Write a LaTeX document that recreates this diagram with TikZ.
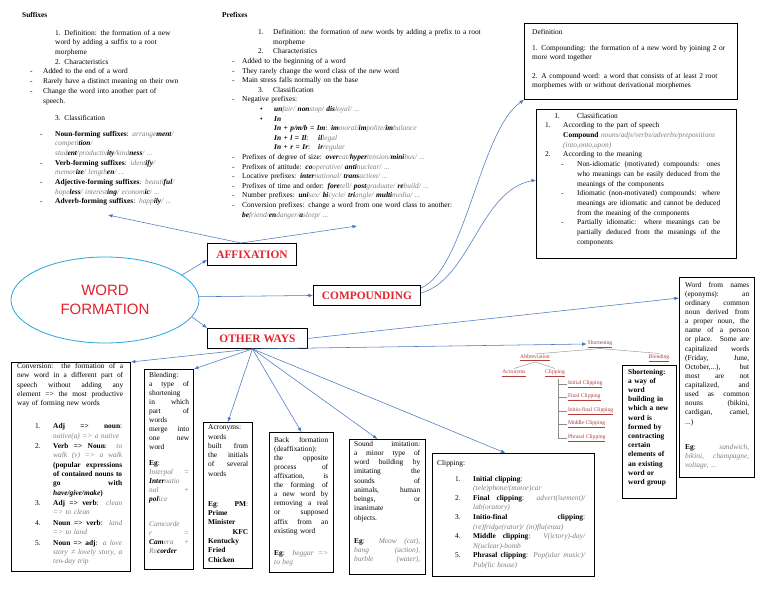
\documentclass[tikz,border=0pt]{standalone}
\usepackage{fontspec}
\setmainfont{Liberation Serif}
\newfontfamily\sansf{Liberation Sans}
\usetikzlibrary{arrows.meta,shapes.geometric,calc}
\definecolor{arrblue}{HTML}{4A78C2}
\definecolor{titlered}{HTML}{E3222B}
\definecolor{exgrey}{HTML}{808080}
\definecolor{treered}{HTML}{B23B3B}
\definecolor{ellblue}{HTML}{2AA5DC}
\definecolor{treegrey}{HTML}{8C8C8C}
\setlength\parindent{0pt}
\newlength\jw
\newcommand\jl[1]{\makebox[\jw][s]{\spaceskip=0pt\xspaceskip=0pt\relax #1}}
\newcommand\mk[2]{\makebox[#1pt][l]{#2}}
\newcommand\ex[1]{{\color{exgrey}\itshape #1}}
\newcommand\af[1]{{\color{black}\bfseries\itshape #1}}
\newcommand\ind[1]{\hspace*{#1pt}}
\begin{document}
\begin{tikzpicture}[x=1pt,y=-1pt,
  txt/.style={inner sep=0pt,anchor=north west,text width=#1},
  fs/.style={font=\fontsize{7.4}{#1}\selectfont},
  cbox/.style={draw=black,line width=0.85pt,inner sep=0pt,anchor=north west},
  title/.style={draw=black,line width=0.9pt,inner sep=0pt,anchor=north west,text=titlered,font=\fontsize{11.4}{13}\selectfont\bfseries},
  arr/.style={draw=arrblue,line width=0.55pt,-{Latex[length=4.5pt,width=3.6pt]}},
  tree/.style={inner sep=0.8pt,text=treered,font=\fontsize{5.6}{6.5}\selectfont},
  treeline/.style={draw=treegrey,line width=0.4pt}]
\fill[white] (0,0) rectangle (768,594);
\useasboundingbox (0,0) rectangle (768,594);

% ---------- Suffixes ----------
\node[txt=200pt,fs=9.7] (suf) at (22,11.7) {%
\textbf{Suffixes}\\[8.3pt]
\ind{33}1. Definition: the formation of a new\\
\ind{33}word by adding a suffix to a root\\
\ind{33}morpheme\\
\ind{33}2. Characteristics\\
\ind{8}\mk{13}{-}Added to the end of a word\\
\ind{8}\mk{13}{-}Rarely have a distinct meaning on their own\\
\ind{8}\mk{13}{-}Change the word into another part of\\
\ind{21}speech.\\[7.3pt]
\ind{33}3. Classification\\[6.3pt]
\ind{18}\mk{15}{-}\textbf{Noun-forming suffixes}: \ex{arrange\af{ment}/}\\
\ind{33}\ex{competi\af{tion}/}\\
\ind{33}\ex{stud\af{ent}/productiv\af{ity}/kind\af{ness}/ ...}\\
\ind{18}\mk{15}{-}\textbf{Verb-forming suffixes}: \ex{ident\af{ify}/}\\
\ind{33}\ex{memor\af{ize}/ length\af{en}/ ...}\\
\ind{18}\mk{15}{-}\textbf{Adjective-forming suffixes}: \ex{beauti\af{ful}/}\\
\ind{33}\ex{hope\af{less}/ interest\af{ing}/ econom\af{ic}/ ...}\\
\ind{18}\mk{15}{-}\textbf{Adverb-forming suffixes}: \ex{happ\af{ily}/ ...}};

% ---------- Prefixes ----------
\node[txt=290pt,fs=9.6] (pre) at (222,11.7) {%
\textbf{Prefixes}\\[7.9pt]
\ind{36}\mk{15}{1.}Definition: the formation of new words by adding a prefix to a root\\
\ind{51}morpheme\\
\ind{36}\mk{15}{2.}Characteristics\\
\ind{10}\mk{10}{-}Added to the beginning of a word\\
\ind{10}\mk{10}{-}They rarely change the word class of the new word\\
\ind{10}\mk{10}{-}Main stress falls normally on the base\\
\ind{36}\mk{15}{3.}Classification\\
\ind{10}\mk{10}{-}Negative prefixes:\\
\ind{38}\mk{14}{•}\ex{\af{un}fair/ \af{non}stop/ \af{dis}loyal/ ...}\\
\ind{38}\mk{14}{•}\textbf{\textit{In}}\\
\ind{52}\textbf{\textit{In + p/m/b = Im}}: \ex{\af{im}moral/\af{im}polite/\af{im}balance}\\
\ind{52}\mk{44}{\textbf{\textit{In + l = Il}}:}\ex{\af{il}legal}\\
\ind{52}\mk{44}{\textbf{\textit{In + r = Ir}}:}\ex{\af{ir}regular}\\
\ind{10}\mk{10}{-}Prefixes of degree of size: \ex{\af{over}eat/\af{hyper}tension/\af{mini}bus/ ...}\\
\ind{10}\mk{10}{-}Prefixes of attitude: \ex{\af{co}operative/ \af{anti}nuclear/ ...}\\
\ind{10}\mk{10}{-}Locative prefixes: \ex{\af{inter}national/ \af{trans}action/ ...}\\
\ind{10}\mk{10}{-}Prefixes of time and order: \ex{\af{fore}tell/ \af{post}graduate/ \af{re}build/ ...}\\
\ind{10}\mk{10}{-}Number prefixes: \ex{\af{uni}sex/ \af{bi}cycle/ \af{tri}angle/ \af{multi}media/ ...}\\
\ind{10}\mk{10}{-}Conversion prefixes: change a word from one word class to another:\\
\ind{20}\ex{\af{be}friend/\af{en}danger/\af{a}sleep/ ...}};

% ---------- Compounding boxes ----------
\node[cbox,minimum width=213pt,minimum height=76pt] (def) at (524,23) {};
\node[txt=205pt,fs=9.4] (deft) at (532,29.2) {Definition\\[6.1pt]
1. Compounding: the formation of a new word by joining 2 or\\
more word together\\[9.1pt]
2. A compound word: a word that consists of at least 2 root\\
morphemes with or without derivational morphemes};

\node[cbox,minimum width=200pt,minimum height=149pt] (cls) at (536,109) {};
\node[txt=195pt,fs=9.7] (clst) at (545,112.7) {\setlength\jw{143pt}%
\ind{10}\mk{22}{I.}Classification\\
\mk{18}{1.}According to the part of speech\\
\ind{18}\textbf{Compound} \ex{nouns/adjs/verbs/adverbs/prepositions}\\
\ind{18}\ex{(into,onto,upon)}\\
\mk{18}{2.}According to the meaning\\
\ind{16}\mk{16}{-}\jl{Non-idiomatic (motivated) compounds: ones}\\
\ind{32}\jl{who meanings can be easily deduced from the}\\
\ind{32}meanings of the components\\
\ind{16}\mk{16}{-}\jl{Idiomatic (non-motivated) compounds: where}\\
\ind{32}\jl{meanings are idiomatic and cannot be deduced}\\
\ind{32}from the meaning of the components\\
\ind{16}\mk{16}{-}\jl{Partially idiomatic: where meanings can be}\\
\ind{32}\jl{partially deduced from the meanings of the}\\
\ind{32}components};

% ---------- Central ellipse and titles ----------
\node[draw=ellblue,line width=0.8pt,ellipse,minimum width=188pt,minimum height=86pt,inner sep=0pt,
  text=titlered,font=\sansf\fontsize{15}{18.5}\selectfont,align=center] (wf) at (105,300) {WORD\\FORMATION};
\node[title,minimum width=89pt,minimum height=22pt] (affix) at (207,243) {AFFIXATION};
\node[title,minimum width=107pt,minimum height=20pt] (comp) at (313,285) {COMPOUNDING};
\node[title,minimum width=100pt,minimum height=20pt] (other) at (207,328) {OTHER WAYS};

% ---------- Other ways boxes ----------
\node[cbox,minimum width=119pt,minimum height=209pt] (conv) at (11,362) {};
\node[txt=110pt,fs=9.3] (convt) at (17,363.2) {\setlength\jw{106pt}%
\jl{Conversion: the formation of a}\\
\jl{new word in a different part of}\\
\jl{speech without adding any}\\
\jl{element => the most productive}\\
way of forming new words\\[13.7pt]
\setlength\jw{69pt}%
\ind{18}\mk{18}{1.}\jl{\textbf{Adj} \textbf{=>} \textbf{noun}:}\\
\ind{36}\ex{native(a) => a native}\\[1.2pt]
\ind{18}\mk{18}{2.}\jl{\textbf{Verb => Noun}: \ex{to}}\\
\ind{36}\jl{\ex{walk (v) => a walk}}\\
\ind{36}\jl{\textbf{(popular expressions}}\\
\ind{36}\jl{\textbf{of contained nouns to}}\\
\ind{36}\jl{\textbf{go with}}\\
\ind{36}\textbf{\textit{have/give/make})}\\[1.2pt]
\ind{18}\mk{18}{3.}\jl{\textbf{Adj => verb}: \ex{clean}}\\
\ind{36}\ex{=> to clean}\\[1.2pt]
\ind{18}\mk{18}{4.}\jl{\textbf{Noun => verb}: \ex{land}}\\
\ind{36}\ex{=> to land}\\[1.2pt]
\ind{18}\mk{18}{5.}\jl{\textbf{Noun => adj}: \ex{a love}}\\
\ind{36}\jl{\ex{story ≠ lovely story, a}}\\
\ind{36}\ex{ten-day trip}};

\node[cbox,minimum width=49pt,minimum height=200pt] (blend) at (144,369) {};
\node[txt=44pt,fs=9.0] (blendt) at (149,371.7) {\setlength\jw{40pt}%
Blending:\\
\jl{a type of}\\
shortening\\
\jl{in which}\\
\jl{part of}\\
words\\
\jl{merge into}\\
\jl{one new}\\
word\\[7pt]
\textbf{Eg}:\\
\jl{\ex{Interpol =}}\\
\ex{\af{Inter}natio}\\
\jl{\ex{nal +}}\\
\ex{\af{pol}ice}\\[16pt]
\ex{Camcorde}\\
\jl{\ex{r =}}\\
\jl{\ex{\af{Cam}era +}}\\
\ex{Re\af{corder}}};

\node[cbox,minimum width=49pt,minimum height=146pt] (acr) at (203,422) {};
\node[txt=42pt,fs=9.3] (acrt) at (208,424.7) {\setlength\jw{40pt}%
Acronyms:\\
words\\
\jl{built from}\\
\jl{the initials}\\
\jl{of several}\\
words\\[20.7pt]
\jl{\textbf{Eg}: \textbf{PM}:}\\
\textbf{Prime}\\
\textbf{Minister}\\
\makebox[\jw][r]{\textbf{KFC}}\\
\textbf{Kentucky}\\
\textbf{Fried}\\
\textbf{Chicken}};

\node[cbox,minimum width=64pt,minimum height=140pt] (back) at (269,432) {};
\node[txt=56pt,fs=9.1] (backt) at (274,436.7) {\setlength\jw{54pt}%
\jl{Back formation}\\
(deaffixation):\\
\jl{the opposite}\\
\jl{process of}\\
\jl{affixation, is}\\
\jl{the forming of}\\
\jl{a new word by}\\
\jl{removing a real}\\
\jl{or supposed}\\
\jl{affix from an}\\
existing word\\[12.9pt]
\jl{\textbf{Eg}: \ex{beggar =>}}\\
\ex{to beg}};

\node[cbox,minimum width=76pt,minimum height=135pt] (sound) at (349,439) {};
\node[txt=68pt,fs=9.25] (soundt) at (354,440.7) {\setlength\jw{66pt}%
\jl{Sound imitation:}\\
\jl{a minor type of}\\
\jl{word building by}\\
\jl{imitating the}\\
\jl{sounds of}\\
\jl{animals, human}\\
\jl{beings, or}\\
inanimate\\
objects.\\[13.75pt]
\jl{\textbf{Eg}: \ex{Meow (cat),}}\\
\jl{\ex{bang (action),}}\\
\jl{\ex{burble (water),}}};

\node[cbox,minimum width=162pt,minimum height=123pt] (clip) at (432,453) {};
\node[txt=155pt,fs=9.6] (clipt) at (437,459.7) {\setlength\jw{112pt}%
Clipping:\\[6.4pt]
\ind{18}\mk{18}{1.}\textbf{Initial clipping}:\\
\ind{36}\ex{(tele)phone/(motor)car}\\
\ind{18}\mk{18}{2.}\jl{\textbf{Final clipping}: \ex{advert(isement)/}}\\
\ind{36}\ex{lab(oratory)}\\
\ind{18}\mk{18}{3.}\jl{\textbf{Initio-final} \textbf{clipping}:}\\
\ind{36}\ex{(re)fridge(rator)/ (in)flu(enza)}\\
\ind{18}\mk{18}{4.}\jl{\textbf{Middle clipping}: \ex{V(ictory)-day/}}\\
\ind{36}\ex{N(uclear)-bomb}\\
\ind{18}\mk{18}{5.}\jl{\textbf{Phrasal clipping}: \ex{Pop(ular music)/}}\\
\ind{36}\ex{Pub(lic house)}};

\node[cbox,minimum width=54pt,minimum height=133pt] (shortb) at (622,365) {};
\node[txt=48pt,font=\fontsize{7.4}{9.2}\selectfont\bfseries] (shortt) at (628,368.7) {%
Shortening:\\ a way of\\ word\\ building in\\ which a new\\ word is\\ formed by\\ contracting\\ certain\\ elements of\\ an existing\\ word or\\ word group};

\node[cbox,minimum width=75pt,minimum height=200pt] (names) at (679,277) {};
\node[txt=66pt,fs=9.13] (namest) at (685,281.7) {\setlength\jw{64pt}%
\jl{Word from names}\\
\jl{(eponyms): an}\\
\jl{ordinary common}\\
\jl{noun derived from}\\
\jl{a proper noun, the}\\
\jl{name of a person}\\
\jl{or place. Some are}\\
\jl{capitalized words}\\
\jl{(Friday, June,}\\
\jl{October,...), but}\\
\jl{most are not}\\
\jl{capitalized, and}\\
\jl{used as common}\\
\jl{nouns (bikini,}\\
\jl{cardigan, camel,}\\
...)\\[15.9pt]
\jl{\textbf{Eg}: \ex{sandwich,}}\\
\jl{\ex{bikini, champagne,}}\\
\ex{voltage, ...}};

% ---------- Shortening tree ----------
\node[tree] (shortlbl) at (600,344) {\underline{Shortening}};
\node[tree] (abbr) at (535,358) {\underline{Abbreviation}};
\node[tree] (blendlbl) at (659,358) {\underline{Blending}};
\node[tree] (acrlbl) at (514,373) {\underline{Acronyms}};
\node[tree] (cliplbl) at (555,373) {\underline{Clipping}};
\node[tree,anchor=west] (ic) at (567,384) {\underline{Initial Clipping}};
\node[tree,anchor=west] (fc) at (567,397.5) {\underline{Final Clipping}};
\node[tree,anchor=west] (ifc) at (567,411) {\underline{Initio-final Clipping}};
\node[tree,anchor=west] (mc) at (567,424.5) {\underline{Middle Clipping}};
\node[tree,anchor=west] (pc) at (567,438) {\underline{Phrasal Clipping}};
\draw[treeline] (shortlbl.south) -- (abbr.north);
\draw[treeline] (shortlbl.south) -- (blendlbl.north);
\draw[treeline] (abbr.south) -- (acrlbl.north);
\draw[treeline] (abbr.south) -- (cliplbl.north);
\coordinate (cv) at ($(cliplbl.south)+(3,1)$);
\draw[treeline] (cv) -- (cv |- pc.west);
\foreach \n in {ic,fc,ifc,mc,pc}{\draw[treeline] (cv |- \n.west) -- (\n.west);}

% ---------- Connectors ----------
\draw[arr] (wf.18) -- ($(affix.south west)+(0,-6)$);
\draw[arr] (wf.2) -- (comp.west);
\draw[arr] (wf.-11) -- (other.north west);
\coordinate (afftop) at ($(affix.north)+(-11,0)$);
\coordinate (suftip) at (108,215);
\coordinate (pretip) at (357,226);
\draw[arr] (afftop) -- (suftip);
\draw[arr] (afftop) -- (pretip);
\draw[arr] ($(comp.north east)+(0,3)$) .. controls (465,270) and (480,130) .. (def.south west);
\draw[arr] ($(comp.north east)+(0,8)$) .. controls (470,280) and (480,190) .. ($(cls.north west)+(0,71)$);
\coordinate (owb) at ($(other.south)+(-5,0)$);
\draw[arr] (other.east) -- ($(names.north west)+(0,21)$);
\draw[arr] (owb) -- (shortlbl.west);
\draw[arr] (owb) -- (conv.north east);
\draw[arr] (owb) -- (blend.north east);
\draw[arr] (owb) -- (acr.north);
\draw[arr] (owb) -- (back.north);
\draw[arr] (owb) -- ($(sound.north)+(-10,0)$);
\draw[arr] (owb) -- ($(clip.north)+(-8,0)$);
\end{tikzpicture}
\end{document}
